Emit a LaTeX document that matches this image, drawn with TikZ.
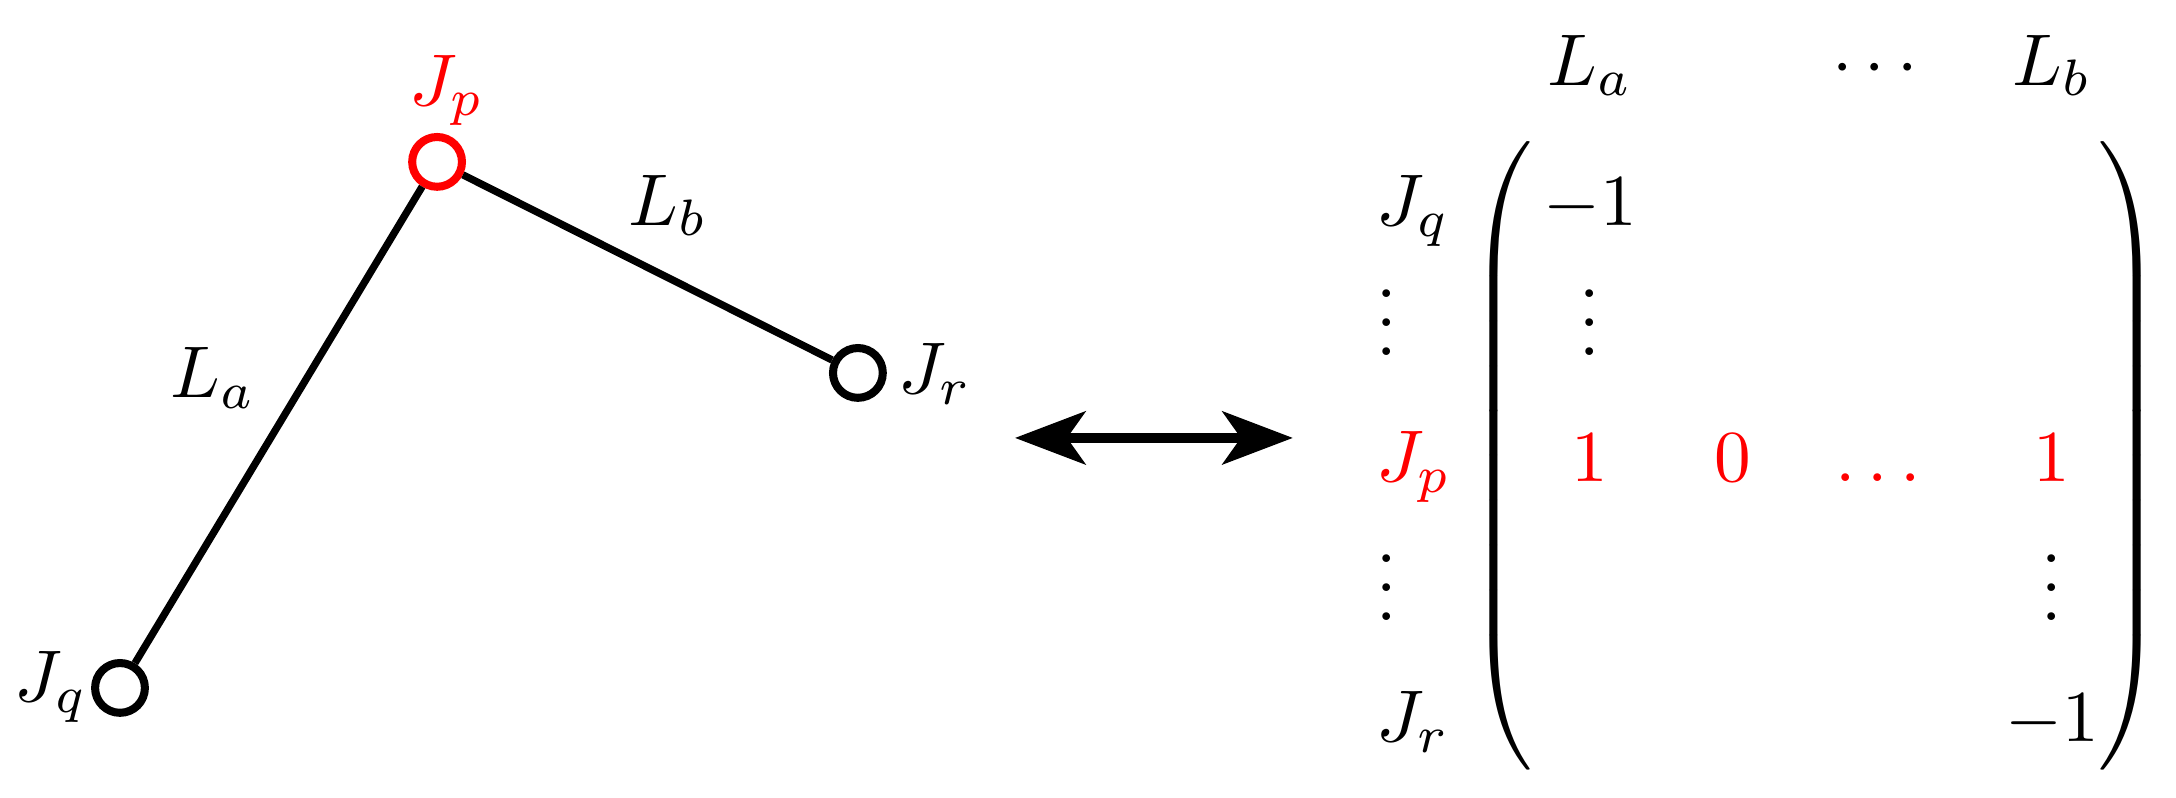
\documentclass[tikz,border=0pt]{standalone}
\usetikzlibrary{arrows.meta}
\begin{document}
\begin{tikzpicture}[scale=1,
	joint/.style={circle,draw,line width=1.1pt,minimum size=6.8pt,inner sep=0pt},
	lien/.style={line width=1pt},
	etiq/.style={anchor=base,inner sep=0pt},
	ligne/.style={anchor=base west,inner sep=0pt},
	paren/.style={inner sep=0pt,yscale=1.022,transform shape}]
	% Cadre
	\useasboundingbox (0,0) rectangle (10.445,3.830);
	
	% Articulations
	\node[joint,red] (Jp) at (2.098,3.053) {};
	\node[joint] (Jq) at (0.576,0.528) {};
	\node[joint] (Jr) at (4.118,2.040) {};
	\node[etiq,red] (nJp) at (2.146,3.326) {$J_p$};
	\node[etiq] (nJq) at (0.245,0.461) {$J_q$};
	\node[etiq] (nJr) at (4.488,1.939) {$J_r$};
	
	% Liens
	\draw[lien] (Jp) -- (Jq);
	\draw[lien] (Jp) -- (Jr);
	\node[etiq] (nLa) at (1.022,1.920) {$L_a$};
	\node[etiq] (nLb) at (3.206,2.750) {$L_b$};
	
	% Double fleche
	\coordinate (fg) at (4.872,1.728);
	\coordinate (fd) at (6.206,1.728);
	\draw[{Stealth[length=9.6pt,width=7.2pt,inset=2.5pt]}-{Stealth[length=9.6pt,width=7.2pt,inset=2.5pt]},line width=1.4pt] (fg) -- (fd);
	
	% Matrice d'incidence : en-tetes
	\node[etiq] (cLa) at (7.632,3.422) {$L_a$};
	\node[etiq] (cdots) at (9.000,3.422) {$\cdots$};
	\node[etiq] (cLb) at (9.850,3.422) {$L_b$};
	\node[ligne] (rJq) at (6.600,2.746) {$J_q$};
	\node[ligne] (rv1) at (6.600,2.122) {$\vdots$};
	\node[ligne,red] (rJp) at (6.600,1.517) {$J_p$};
	\node[ligne] (rv2) at (6.600,0.850) {$\vdots$};
	\node[ligne] (rJr) at (6.600,0.269) {$J_r$};
	
	% Parentheses
	\node[paren] (pg) at (7.224,1.642) {$\left(\vcenter{\hbox{\rule{0pt}{87pt}}}\right.$};
	\node[paren] (pd) at (10.205,1.642) {$\left.\vcenter{\hbox{\rule{0pt}{87pt}}}\right)$};
	
	% Coefficients
	\node[etiq] (m11) at (7.632,2.746) {$-1$};
	\node[etiq] (m21) at (7.632,2.122) {$\vdots$};
	\node[etiq,red] (m31) at (7.632,1.517) {$1$};
	\node[etiq,red] (m32) at (8.318,1.517) {$0$};
	\node[etiq,red] (m33) at (9.014,1.517) {$\dots$};
	\node[etiq,red] (m34) at (9.850,1.517) {$1$};
	\node[etiq] (m44) at (9.850,0.850) {$\vdots$};
	\node[etiq] (m54) at (9.850,0.269) {$-1$};
\end{tikzpicture}
\end{document}
